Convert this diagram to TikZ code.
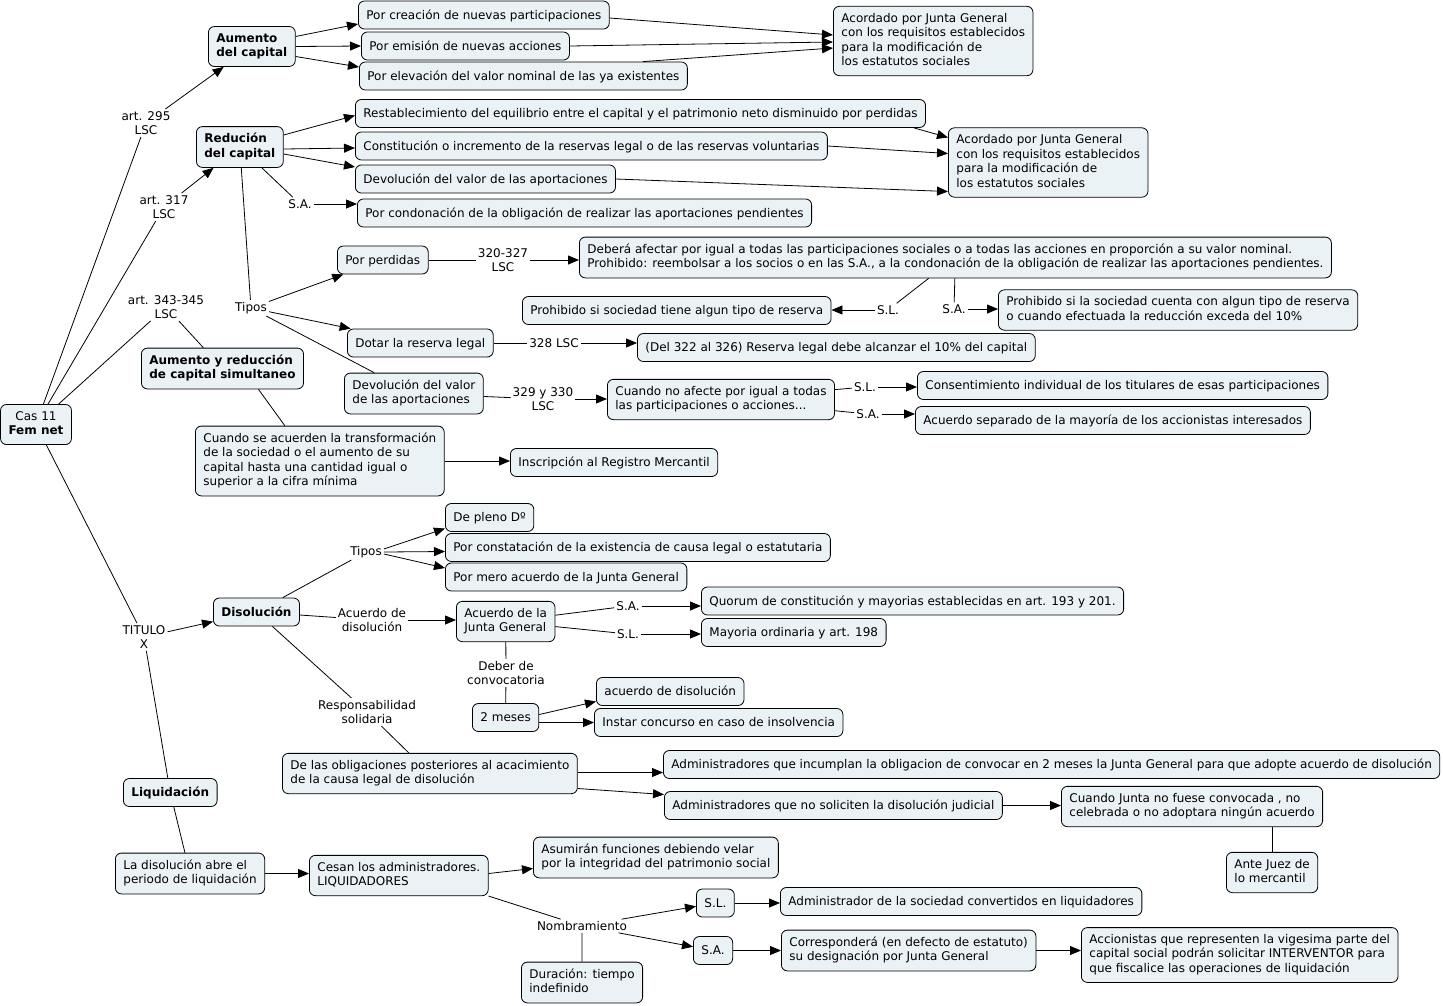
\documentclass[tikz,border=0pt]{standalone}
\usepackage{fontspec}
\setmainfont{DejaVu Sans}
\usetikzlibrary{arrows.meta,calc}
\definecolor{boxfill}{RGB}{235,242,245}
\newcommand{\cmfont}{\fontsize{12}{14.5}\selectfont}
\newcommand{\mystrut}{\rule[-3.2pt]{0pt}{14.5pt}}
\tikzset{
  box/.style={draw=black, line width=0.8pt, fill=boxfill, rounded corners=6pt,
    inner xsep=8pt, inner ysep=6.75pt, align=left, font=\cmfont,
    execute at begin node=\mystrut, execute at end node=\mystrut},
  bbox/.style={box, font=\cmfont\bfseries},
  lbl/.style={inner sep=2pt, align=center, font=\cmfont},
  con/.style={line width=0.8pt},
  arr/.style={con, -{Triangle[length=11pt,width=9pt]}},
}
\begin{document}
\begin{tikzpicture}[x=1pt,y=-1pt]
\useasboundingbox (0,0) rectangle (1443,1005);
% ---------- boxes ----------
\node[box,align=center] (cas) at (36,424.5) {Cas 11\\\textbf{Fem net}};
\node[bbox,anchor=west] (aum) at (208,46.5) {Aumento\\del capital};
\node[box,anchor=west] (pc) at (358,15) {Por creación de nuevas participaciones};
\node[box,anchor=west] (pe) at (361,46) {Por emisión de nuevas acciones};
\node[box,anchor=west] (pv) at (359,76) {Por elevación del valor nominal de las ya existentes};
\node[box,anchor=west] (a1) at (833,41) {Acordado por Junta General\\con los requisitos establecidos\\para la modificación de\\los estatutos sociales};
\node[bbox,anchor=west] (red) at (196,147) {Redución\\del capital};
\node[box,anchor=west] (rest) at (355,113.5) {Restablecimiento del equilibrio entre el capital y el patrimonio neto disminuido por perdidas};
\node[box,anchor=west] (cons) at (355,146) {Constitución o incremento de la reservas legal o de las reservas voluntarias};
\node[box,anchor=west] (dev1) at (355,179) {Devolución del valor de las aportaciones};
\node[box,anchor=west] (cond) at (357,213) {Por condonación de la obligación de realizar las aportaciones pendientes};
\node[box,anchor=west] (a2) at (948,162.5) {Acordado por Junta General\\con los requisitos establecidos\\para la modificación de\\los estatutos sociales};
\node[box,anchor=west] (perd) at (337,260) {Por perdidas};
\node[box,anchor=west] (deb) at (579,257.5) {Deberá afectar por igual a todas las participaciones sociales o a todas las acciones en proporción a su valor nominal.\\Prohibido: reembolsar a los socios o en las S.A., a la condonación de la obligación de realizar las aportaciones pendientes.};
\node[box,anchor=west] (proh1) at (522,310.5) {Prohibido si sociedad tiene algun tipo de reserva};
\node[box,anchor=west] (proh2) at (998,310) {Prohibido si la sociedad cuenta con algun tipo de reserva\\o cuando efectuada la reducción exceda del 10\%};
\node[box,anchor=west] (dotar) at (347,343) {Dotar la reserva legal};
\node[box,anchor=west] (del322) at (637,347.5) {(Del 322 al 326) Reserva legal debe alcanzar el 10\% del capital};
\node[box,anchor=west] (dev2) at (344,393.5) {Devolución del valor\\de las aportaciones};
\node[box,anchor=west] (cna) at (607,399.5) {Cuando no afecte por igual a todas\\las participaciones o acciones...};
\node[box,anchor=west] (cons2) at (917,385.5) {Consentimiento individual de los titulares de esas participaciones};
\node[box,anchor=west] (acsep) at (915,420.5) {Acuerdo separado de la mayoría de los accionistas interesados};
\node[bbox,anchor=west] (ayr) at (141,368.5) {Aumento y reducción\\de capital simultaneo};
\node[box,anchor=west] (csa) at (195,461) {Cuando se acuerden la transformación\\de la sociedad o el aumento de su\\capital hasta una cantidad igual o\\superior a la cifra mínima};
\node[box,anchor=west] (insc) at (510,462.5) {Inscripción al Registro Mercantil};
\node[box,anchor=west] (pleno) at (445,517.5) {De pleno Dº};
\node[box,anchor=west] (const) at (445,547.5) {Por constatación de la existencia de causa legal o estatutaria};
\node[box,anchor=west] (mero) at (445,577) {Por mero acuerdo de la Junta General};
\node[bbox,anchor=west] (diso) at (213,612) {Disolución};
\node[box,anchor=west] (ajg) at (456,621.5) {Acuerdo de la\\Junta General};
\node[box,anchor=west] (quor) at (701,601) {Quorum de constitución y mayorias establecidas en art. 193 y 201.};
\node[box,anchor=west] (mayo) at (701,632.5) {Mayoria ordinaria y art. 198};
\node[box,anchor=west] (meses) at (472,717.5) {2 meses};
\node[box,anchor=west] (acd) at (596,691.5) {acuerdo de disolución};
\node[box,anchor=west] (inst) at (594,722.5) {Instar concurso en caso de insolvencia};
\node[box,anchor=west] (oblig) at (282,773.5) {De las obligaciones posteriores al acacimiento\\de la causa legal de disolución};
\node[box,anchor=west] (inc) at (663,764.5) {Administradores que incumplan la obligacion de convocar en 2 meses la Junta General para que adopte acuerdo de disolución};
\node[box,anchor=west] (nosol) at (664,805.5) {Administradores que no soliciten la disolución judicial};
\node[box,anchor=west] (cj) at (1061,806.5) {Cuando Junta no fuese convocada , no\\celebrada o no adoptara ningún acuerdo};
\node[box,anchor=west] (juez) at (1226,872.5) {Ante Juez de\\lo mercantil};
\node[bbox,anchor=west] (liq) at (123,792.5) {Liquidación};
\node[box,anchor=west] (lda) at (115,873.5) {La disolución abre el\\periodo de liquidación};
\node[box,anchor=west] (cesan) at (309,875.5) {Cesan los administradores.\\LIQUIDADORES};
\node[box,anchor=west] (asum) at (533,857.5) {Asumirán funciones debiendo velar\\por la integridad del patrimonio social};
\node[box,anchor=west] (slb) at (696,903) {S.L.};
\node[box,anchor=west] (sab) at (693,950.5) {S.A.};
\node[box,anchor=west] (admso) at (780,901.5) {Administrador de la sociedad convertidos en liquidadores};
\node[box,anchor=west] (corr) at (781,950.5) {Corresponderá (en defecto de estatuto)\\su designación por Junta General};
\node[box,anchor=west] (acci) at (1081,955) {Accionistas que representen la vigesima parte del\\capital social podrán solicitar INTERVENTOR para\\que fiscalice las operaciones de liquidación};
\node[box,anchor=west] (dur) at (521,982.5) {Duración: tiempo\\indefinido};
% ---------- labels ----------
\node[lbl] (a295) at (146,123) {art. 295\\LSC};
\node[lbl] (a317) at (164,207) {art. 317\\LSC};
\node[lbl] (a343) at (166,307) {art. 343-345\\LSC};
\node[lbl] (sa1) at (300,204) {S.A.};
\node[lbl] (tip1) at (251,308) {Tipos};
\node[lbl] (l320) at (503,260) {320-327\\LSC};
\node[lbl] (sl1) at (888,310) {S.L.};
\node[lbl] (sa2) at (954,309) {S.A.};
\node[lbl] (l328) at (554,343) {328 LSC};
\node[lbl] (l329) at (543,399) {329 y 330\\LSC};
\node[lbl] (sl2) at (865,387) {S.L.};
\node[lbl] (sa3) at (868,414) {S.A.};
\node[lbl] (tip2) at (366,552) {Tipos};
\node[lbl] (lacd) at (372,620) {Acuerdo de\\disolución};
\node[lbl] (sa4) at (628,606) {S.A.};
\node[lbl] (sl4) at (628,634) {S.L.};
\node[lbl] (ldeb) at (506,673) {Deber de\\convocatoria};
\node[lbl] (lresp) at (367,712) {Responsabilidad\\solidaria};
\node[lbl] (tit) at (144,637) {TITULO\\X};
\node[lbl] (nomb) at (582,926) {Nombramiento};
% ---------- connectors ----------
\draw[con] (cas) -- (a295); \draw[arr] (a295) -- (aum);
\draw[con] (cas) -- (a317); \draw[arr] (a317) -- (red);
\draw[con] (cas) -- (a343); \draw[con] (a343) -- (ayr);
\draw[con] (cas) -- (tit); \draw[arr] (tit) -- (diso); \draw[con] (tit) -- (liq);
% aumento
\draw[arr] ($(aum.east)+(0,-10)$) -- ($(pc.west)+(0,9)$);
\draw[arr] (aum.east) -- (pe.west);
\draw[arr] ($(aum.east)+(0,10)$) -- ($(pv.west)+(0,-9)$);
\draw[arr] ($(pc.east)+(0,3)$) -- ($(a1.west)+(0,-6)$);
\draw[arr] (pe.east) -- ($(a1.west)+(0,1)$);
\draw[arr] ($(pv.north east)+(-45,0)$) -- ($(a1.west)+(0,7)$);
% reduccion
\draw[arr] ($(red.east)+(0,-12)$) -- ($(rest.west)+(0,2)$);
\draw[arr] ($(red.east)+(0,2)$) -- ($(cons.west)+(0,2)$);
\draw[arr] ($(red.east)+(0,7)$) -- ($(dev1.west)+(0,-12)$);
\draw[con] (red) -- (sa1); \draw[arr] (sa1.east) -- (sa1.east -| cond.west);
\draw[con] (red) -- (tip1);
\draw[arr] ($(rest.south east)+(-12,0)$) -- ($(a2.west)+(0,-25)$);
\draw[arr] (cons.east) -- ($(a2.west)+(0,-9)$);
\draw[arr] (dev1.east) -- ($(a2.west)+(0,29)$);
% tipos
\draw[arr] (tip1) -- (perd); \draw[arr] (tip1) -- (dotar); \draw[con] (tip1) -- (dev2);
\draw[con] (perd) -- (l320); \draw[arr] (l320.east) -- (l320.east -| deb.west);
\draw[con] (deb) -- (sl1); \draw[arr] (sl1.west) -- (sl1.west -| proh1.east);
\draw[con] (deb) -- (sa2); \draw[arr] (sa2.east) -- (sa2.east -| proh2.west);
\draw[con] (dotar) -- (l328); \draw[arr] (l328.east) -- (l328.east -| del322.west);
\draw[con] (dev2) -- (l329); \draw[arr] (l329.east) -- (l329.east -| cna.west);
\draw[con] (cna) -- (sl2); \draw[arr] (sl2.east) -- (sl2.east -| cons2.west);
\draw[con] (cna) -- (sa3); \draw[arr] (sa3.east) -- (sa3.east -| acsep.west);
% simultaneo
\draw[con] ($(ayr.south)+(36,0)$) -- ($(csa.north)+(-35,0)$);
\draw[arr] (csa.east) -- (csa.east -| insc.west);
% disolucion
\draw[con] (diso) -- (tip2);
\draw[arr] ($(tip2.east)+(0,-3)$) -- ($(pleno.west)+(0,11)$);
\draw[arr] (tip2.east) -- ($(const.west)+(0,4)$);
\draw[arr] ($(tip2.east)+(0,2)$) -- ($(mero.west)+(0,-9)$);
\draw[con] (diso) -- (lacd); \draw[arr] (lacd.east) -- (lacd.east -| ajg.west);
\draw[con] (ajg) -- (sa4); \draw[arr] (sa4.east) -- (sa4.east -| quor.west);
\draw[con] (ajg) -- (sl4); \draw[arr] (sl4.east) -- (sl4.east -| mayo.west);
\draw[con] (ajg) -- (ldeb); \draw[con] (ldeb) -- (meses);
\draw[arr] ($(meses.east)+(0,-3)$) -- ($(acd.west)+(0,10)$);
\draw[arr] ($(meses.east)+(0,5)$) -- (inst.west);
\draw[con] (diso) -- (lresp); \draw[con] (lresp) -- (oblig);
\draw[arr] ($(oblig.east)+(0,-1)$) -- ($(inc.west)+(0,8)$);
\draw[arr] ($(oblig.east)+(0,15)$) -- ($(nosol.west)+(0,-11)$);
\draw[arr] (nosol.east) -- (nosol.east -| cj.west);
\draw[con] (cj.south -| juez.north) -- (juez.north);
% liquidacion
\draw[con] (liq) -- (lda);
\draw[arr] (lda.east) -- (lda.east -| cesan.west);
\draw[arr] ($(cesan.east)+(0,-2)$) -- ($(asum.west)+(0,11)$);
\draw[con] (cesan.south east) -- (nomb);
\draw[arr] (nomb) -- (slb); \draw[arr] (nomb) -- (sab);
\draw[con] (nomb) -- (dur);
\draw[arr] (slb.east) -- (slb.east -| admso.west);
\draw[arr] (sab.east) -- (sab.east -| corr.west);
\draw[arr] (corr.east) -- (corr.east -| acci.west);
\end{tikzpicture}
\end{document}
